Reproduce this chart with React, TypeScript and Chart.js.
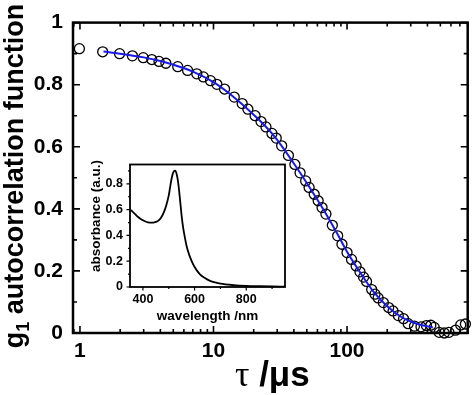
import React, { useEffect, useRef } from 'react';
import { Chart, registerables } from 'chart.js';
Chart.register(...registerables);

// ---- main correlation data (tau in microseconds, g1) ----
const tauUs = [0.99, 1.48, 1.98, 2.47, 2.98, 3.45, 3.91, 4.4, 5.4, 6.4, 7.5, 8.4, 9.5, 10.6, 12.1, 14.3, 16.4, 18.1, 20.5, 22.7, 24.7, 27.4, 29.5, 32.4, 36.4, 40.7, 44.5, 49.0, 52.0, 56.8, 60.8, 65, 69.5, 77.6, 85.1, 91.6, 100, 108, 117, 125, 133, 140, 153, 162, 171, 187, 205, 221, 242, 265, 287, 320, 358, 393, 424, 450, 490, 535, 580, 650, 710, 770];
const g1Values = [0.916, 0.906, 0.9, 0.893, 0.887, 0.881, 0.875, 0.869, 0.858, 0.846, 0.835, 0.825, 0.813, 0.801, 0.786, 0.76, 0.739, 0.721, 0.7, 0.681, 0.664, 0.643, 0.628, 0.603, 0.572, 0.543, 0.516, 0.49, 0.469, 0.447, 0.426, 0.404, 0.383, 0.347, 0.313, 0.286, 0.259, 0.237, 0.216, 0.197, 0.18, 0.166, 0.14, 0.125, 0.113, 0.098, 0.082, 0.071, 0.056, 0.046, 0.03, 0.022, 0.02, 0.024, 0.025, 0.018, 0.002, 0.0, 0.002, 0.009, 0.026, 0.029];

// ---- fit curve ----
const fitTau = [1.5, 2, 3, 4, 5, 7, 10, 14, 20, 28, 40, 55, 70, 85, 100, 130, 160, 200, 250, 300, 360, 440];
const fitG1 = [0.907, 0.9, 0.888, 0.876, 0.864, 0.842, 0.808, 0.762, 0.703, 0.638, 0.546, 0.455, 0.382, 0.318, 0.262, 0.185, 0.13, 0.086, 0.054, 0.037, 0.026, 0.018];

// ---- inset absorbance spectrum ----
const wavelengthNm = [350, 360, 370, 380, 390, 400, 410, 420, 430, 440, 450, 460, 470, 480, 490, 500, 505, 510, 515, 520, 525, 530, 535, 540, 545, 550, 555, 560, 570, 580, 590, 600, 620, 640, 660, 680, 700, 750, 800, 850, 900, 950];
const absorbance = [0.6, 0.585, 0.565, 0.545, 0.53, 0.518, 0.508, 0.502, 0.5, 0.5, 0.505, 0.515, 0.537, 0.575, 0.63, 0.71, 0.77, 0.83, 0.875, 0.898, 0.902, 0.88, 0.83, 0.75, 0.65, 0.55, 0.47, 0.41, 0.31, 0.245, 0.195, 0.155, 0.1, 0.07, 0.048, 0.035, 0.026, 0.015, 0.009, 0.006, 0.004, 0.003];

// ---- tick labels ----
const mainXTicks = [1, 10, 100];
const mainYTicks = [0, 0.2, 0.4, 0.6, 0.8, 1];
const insetXTicks = [400, 600, 800];
const insetYTicks = [0, 0.2, 0.4, 0.6, 0.8];

const FONT = '"Liberation Sans", Arial, Helvetica, sans-serif';

const fmtY = (v: number) => (Math.abs(v) < 1e-9 ? '0' : Math.abs(v - 1) < 1e-9 ? '1' : Number(v).toFixed(1));

const mainDecor = {
  id: 'mainDecor',
  afterDatasetsDraw(chart: any) {
    const { ctx, chartArea: a, scales } = chart;
    const x = scales.x;
    const y = scales.y;
    ctx.save();
    ctx.strokeStyle = '#000';
    ctx.lineWidth = 1.6;
    ctx.beginPath();
    for (let i = 0; i <= 10; i++) {
      const v = i / 10;
      const py = y.getPixelForValue(v);
      const len = i % 2 === 0 ? 7 : 4;
      ctx.moveTo(a.left, py);
      ctx.lineTo(a.left + len, py);
      ctx.moveTo(a.right, py);
      ctx.lineTo(a.right - len, py);
    }
    for (let e = -1; e <= 3; e++) {
      for (let m = 1; m <= 9; m++) {
        const v = m * Math.pow(10, e);
        if (v < x.min || v > x.max) continue;
        const px = x.getPixelForValue(v);
        const len = m === 1 ? 7 : 4;
        ctx.moveTo(px, a.bottom);
        ctx.lineTo(px, a.bottom - len);
        ctx.moveTo(px, a.top);
        ctx.lineTo(px, a.top + len);
      }
    }
    ctx.stroke();
    ctx.lineWidth = 2.5;
    ctx.strokeRect(a.left, a.top, a.right - a.left, a.bottom - a.top);
    ctx.restore();
  },
  afterDraw(chart: any) {
    const { ctx, chartArea: a } = chart;
    ctx.save();
    ctx.fillStyle = '#000';
    // y title
    ctx.translate(23, 176);
    ctx.rotate(-Math.PI / 2);
    const big = `bold 27px ${FONT}`;
    const small = `bold 18px ${FONT}`;
    ctx.font = big;
    const wG = ctx.measureText('g').width;
    const wRest = ctx.measureText(' autocorrelation function').width;
    ctx.font = small;
    const w1 = ctx.measureText('1').width;
    const total = wG + w1 + wRest;
    let cx = -total / 2;
    ctx.textBaseline = 'alphabetic';
    ctx.textAlign = 'left';
    ctx.font = big;
    ctx.fillText('g', cx, 0);
    cx += wG;
    ctx.font = small;
    ctx.fillText('1', cx, 6);
    cx += w1;
    ctx.font = big;
    ctx.fillText(' autocorrelation function', cx, 0);
    ctx.restore();

    // x title
    ctx.save();
    ctx.fillStyle = '#000';
    ctx.textBaseline = 'alphabetic';
    ctx.textAlign = 'left';
    const tauFont = `36px "Liberation Serif", "Times New Roman", serif`;
    const restFont = `bold 35px ${FONT}`;
    ctx.font = tauFont;
    const wt = ctx.measureText('τ').width;
    ctx.font = restFont;
    const wr = ctx.measureText(' /μs').width;
    const cxm = (a.left + a.right) / 2 + 2;
    let sx = cxm - (wt + wr) / 2;
    ctx.font = tauFont;
    ctx.fillText('τ', sx, 386);
    sx += wt;
    ctx.font = restFont;
    ctx.fillText(' /μs', sx, 386);
    ctx.restore();
  },
};

const insetDecor = {
  id: 'insetDecor',
  afterDatasetsDraw(chart: any) {
    const { ctx, chartArea: a, scales } = chart;
    const x = scales.x;
    const y = scales.y;
    ctx.save();
    ctx.strokeStyle = '#000';
    ctx.lineWidth = 1.2;
    ctx.beginPath();
    for (let i = 0; i <= 9; i++) {
      const v = i / 10;
      const py = y.getPixelForValue(v);
      const len = i % 2 === 0 ? 3.5 : 2;
      ctx.moveTo(a.left, py);
      ctx.lineTo(a.left - len, py);
    }
    for (let v = 400; v <= 950; v += 100) {
      const px = x.getPixelForValue(v);
      const len = v % 200 === 0 ? 3.5 : 2;
      ctx.moveTo(px, a.bottom);
      ctx.lineTo(px, a.bottom + len);
    }
    ctx.stroke();
    ctx.lineWidth = 1.8;
    ctx.strokeRect(a.left, a.top, a.right - a.left, a.bottom - a.top);
    ctx.restore();
  },
  afterDraw(chart: any) {
    const { ctx, chartArea: a } = chart;
    ctx.save();
    ctx.fillStyle = '#000';
    ctx.font = `bold 13.5px ${FONT}`;
    ctx.textAlign = 'center';
    ctx.textBaseline = 'alphabetic';
    ctx.fillText('wavelength /nm', (a.left + a.right) / 2, 170);
    ctx.translate(20, 66);
    ctx.rotate(-Math.PI / 2);
    ctx.fillText('absorbance (a.u.)', 0, 0);
    ctx.restore();
  },
};

export default function App() {
  const mainRef = useRef<HTMLCanvasElement>(null);
  const insetRef = useRef<HTMLCanvasElement>(null);

  useEffect(() => {
    const tickFont = { family: FONT, size: 21, weight: 'bold' as const };
    const main = new Chart(mainRef.current as HTMLCanvasElement, {
      type: 'scatter',
      data: {
        datasets: [
          {
            label: 'fit',
            data: fitTau.map((t, i) => ({ x: t, y: fitG1[i] })),
            showLine: true,
            borderColor: '#1a1ae6',
            borderWidth: 2,
            pointRadius: 0,
            cubicInterpolationMode: 'monotone',
            fill: false,
          } as any,
          {
            label: 'g1',
            data: tauUs.map((t, i) => ({ x: t, y: g1Values[i] })),
            showLine: false,
            pointStyle: 'circle',
            pointRadius: 5,
            pointBorderWidth: 1.3,
            pointBorderColor: '#000',
            pointBackgroundColor: 'rgba(0,0,0,0)',
            borderColor: '#000',
            backgroundColor: 'rgba(0,0,0,0)',
            clip: 6,
          } as any,
        ],
      },
      options: {
        responsive: false,
        animation: false,
        devicePixelRatio: 1,
        layout: { padding: { top: 13, right: 2, left: 0, bottom: 0 } },
        plugins: { legend: { display: false }, tooltip: { enabled: false } },
        scales: {
          x: {
            type: 'logarithmic',
            min: 0.887,
            max: 801,
            grid: { display: false, drawTicks: false, tickLength: 0 },
            border: { display: false },
            afterBuildTicks: (s: any) => {
              s.ticks = mainXTicks.map((v) => ({ value: v }));
            },
            afterFit: (s: any) => {
              s.height = 62;
            },
            ticks: {
              font: tickFont,
              color: '#000',
              padding: 6,
              maxRotation: 0,
              autoSkip: false,
              callback: (v: any) => String(v),
            },
          },
          y: {
            type: 'linear',
            min: 0,
            max: 1,
            grid: { display: false, drawTicks: false, tickLength: 0 },
            border: { display: false },
            afterBuildTicks: (s: any) => {
              s.ticks = mainYTicks.map((v) => ({ value: v }));
            },
            afterFit: (s: any) => {
              s.width = 73;
            },
            ticks: {
              font: tickFont,
              color: '#000',
              padding: 10,
              autoSkip: false,
              callback: (v: any) => fmtY(Number(v)),
            },
          },
        },
      } as any,
      plugins: [mainDecor],
    });

    const insetFont = { family: FONT, size: 12.5, weight: 'bold' as const };
    const inset = new Chart(insetRef.current as HTMLCanvasElement, {
      type: 'scatter',
      data: {
        datasets: [
          {
            label: 'absorbance',
            data: wavelengthNm.map((w, i) => ({ x: w, y: absorbance[i] })),
            showLine: true,
            borderColor: '#000',
            borderWidth: 1.8,
            pointRadius: 0,
            cubicInterpolationMode: 'monotone',
            fill: false,
          } as any,
        ],
      },
      options: {
        responsive: false,
        animation: false,
        devicePixelRatio: 1,
        layout: { padding: { top: 9, right: 10, left: 0, bottom: 0 } },
        plugins: { legend: { display: false }, tooltip: { enabled: false } },
        scales: {
          x: {
            type: 'linear',
            min: 350,
            max: 950,
            grid: { display: false, drawTicks: false, tickLength: 0 },
            border: { display: false },
            afterBuildTicks: (s: any) => {
              s.ticks = insetXTicks.map((v) => ({ value: v }));
            },
            afterFit: (s: any) => {
              s.height = 43;
            },
            ticks: { font: insetFont, color: '#000', padding: 5, maxRotation: 0, autoSkip: false, callback: (v: any) => String(v) },
          },
          y: {
            type: 'linear',
            min: 0,
            max: 0.95,
            grid: { display: false, drawTicks: false, tickLength: 0 },
            border: { display: false },
            afterBuildTicks: (s: any) => {
              s.ticks = insetYTicks.map((v) => ({ value: v }));
            },
            afterFit: (s: any) => {
              s.width = 50;
            },
            ticks: { font: insetFont, color: '#000', padding: 7, autoSkip: false, callback: (v: any) => fmtY(Number(v)) },
          },
        },
      } as any,
      plugins: [insetDecor],
    });

    return () => {
      main.destroy();
      inset.destroy();
    };
  }, []);

  return (
    <div style={{ position: 'fixed', left: 0, top: 0, width: 474, height: 395, background: '#fff' }}>
      <canvas ref={mainRef} width={474} height={395} style={{ position: 'absolute', left: 0, top: 0, width: 474, height: 395 }} />
      <canvas ref={insetRef} width={215} height={180} style={{ position: 'absolute', left: 80, top: 150, width: 215, height: 180 }} />
    </div>
  );
}
